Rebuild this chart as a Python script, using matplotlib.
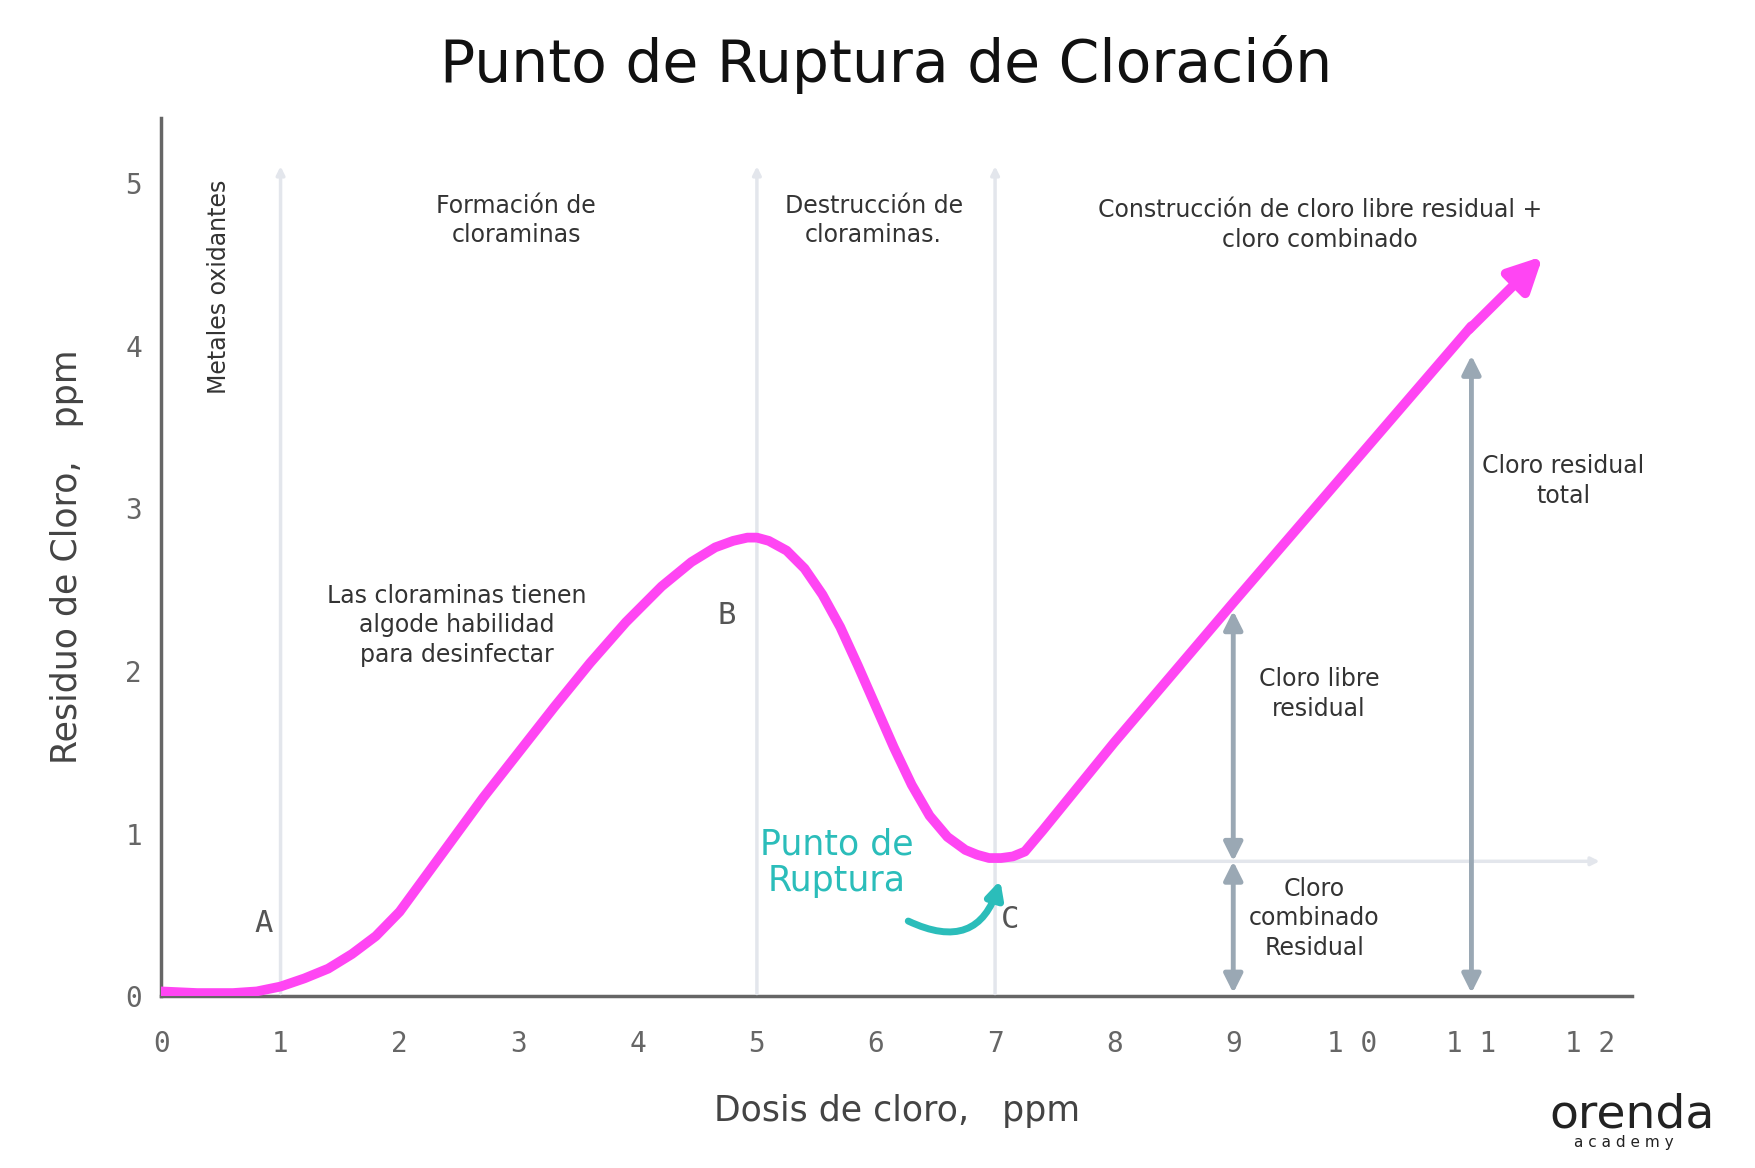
import matplotlib
matplotlib.use("Agg")
import matplotlib.pyplot as plt

curve_x = [0, 0.3, 0.6, 0.8, 1.0, 1.2, 1.4, 1.6, 1.8, 2.0, 2.2, 2.4, 2.7, 3.0, 3.3, 3.6, 3.9, 4.2, 4.45, 4.65, 4.8, 4.92, 5.0, 5.1, 5.25, 5.4, 5.55, 5.7, 5.85, 6.0, 6.15, 6.3, 6.45, 6.6, 6.75, 6.85, 6.95, 7.05, 7.15, 7.25, 7.4, 8.0, 9.0, 10.0, 11.0]
curve_y = [0.03, 0.02, 0.02, 0.03, 0.06, 0.11, 0.17, 0.26, 0.37, 0.52, 0.72, 0.92, 1.22, 1.5, 1.78, 2.05, 2.3, 2.52, 2.67, 2.76, 2.8, 2.82, 2.82, 2.8, 2.74, 2.63, 2.47, 2.27, 2.03, 1.78, 1.53, 1.3, 1.11, 0.98, 0.9, 0.87, 0.85, 0.85, 0.86, 0.89, 1.02, 1.56, 2.42, 3.27, 4.12]
xticks = list(range(13))
yticks = list(range(6))
pink = "#FF45F3"; grey = "#9AA8B4"; light = "#E3E6EC"; teal = "#2BBDBA"

fig = plt.figure(figsize=(17.55, 11.68), dpi=100)
ax = fig.add_axes([0.092, 0.147, 0.8326, 0.752])
ax.set_xlim(0, 12.35); ax.set_ylim(0, 5.4)
ax.set_position([0.092, 0.147, 0.8326 * 12.35 / 12.27, 0.752])
for s in ["top", "right"]:
    ax.spines[s].set_visible(False)
for s in ["left", "bottom"]:
    ax.spines[s].set_color("#666"); ax.spines[s].set_linewidth(2.5)
ax.set_xticks(xticks); ax.set_yticks(yticks)
ax.set_xticklabels([" ".join(str(t)) for t in xticks], family="DejaVu Sans Mono")
ax.set_yticklabels([str(t) for t in yticks], family="DejaVu Sans Mono")
ax.tick_params(length=0, labelsize=20, labelcolor="#666", pad=14)
ax.tick_params(axis="x", pad=24)
ax.set_xlabel("Dosis de cloro,   ppm", fontsize=25, color="#444", labelpad=26)
ax.set_ylabel("Residuo de Cloro,   ppm", fontsize=25, color="#444", labelpad=30)

for xv in [1, 5, 7]:
    ax.annotate("", xy=(xv, 5.12), xytext=(xv, 0), arrowprops=dict(arrowstyle="-|>", color=light, lw=2.5, mutation_scale=12))
ax.annotate("", xy=(12.1, 0.83), xytext=(7, 0.83), arrowprops=dict(arrowstyle="-|>", color=light, lw=2.5, mutation_scale=12))

ax.plot(curve_x, curve_y, color=pink, lw=7, solid_capstyle="round", solid_joinstyle="round", zorder=5)
ax.annotate("", xy=(11.6, 4.55), xytext=(10.98, 4.1), arrowprops=dict(arrowstyle="-|>", color=pink, lw=7, mutation_scale=50, shrinkA=0, shrinkB=0), zorder=6)

ga = dict(arrowstyle="<|-|>", color=grey, lw=3.5, mutation_scale=28, shrinkA=0, shrinkB=0)
ax.annotate("", xy=(9, 0.02), xytext=(9, 0.83), arrowprops=ga)
ax.annotate("", xy=(9, 0.83), xytext=(9, 2.37), arrowprops=ga)
ax.annotate("", xy=(11, 0.02), xytext=(11, 3.94), arrowprops=ga)

ax.annotate("", xy=(7.05, 0.73), xytext=(6.25, 0.47),
            arrowprops=dict(arrowstyle="-|>", color=teal, lw=5, mutation_scale=25, connectionstyle="arc3,rad=0.6"))

t = dict(fontsize=17, color="#333", ha="center", va="center", linespacing=1.3)
ax.text(2.98, 4.77, "Formación de\ncloraminas", **t)
ax.text(5.98, 4.77, "Destrucción de\ncloraminas.", **t)
ax.text(9.73, 4.74, "Construcción de cloro libre residual +\ncloro combinado", **t)
ax.text(2.48, 2.28, "Las cloraminas tienen\nalgode habilidad\npara desinfectar", **t)
ax.text(0.48, 4.36, "Metales oxidantes", rotation=90, **t)
ax.text(9.72, 1.86, "Cloro libre\nresidual", **t)
ax.text(9.68, 0.48, "Cloro\ncombinado\nResidual", **t)
ax.text(11.77, 3.17, "Cloro residual\ntotal", **t)
ax.text(5.67, 0.82, "Punto de\nRuptura", fontsize=25, color=teal, ha="center", va="center", linespacing=1.1)
lt = dict(fontsize=22, color="#555", ha="center", va="center", family="DejaVu Sans Mono")
ax.text(0.86, 0.45, "A", **lt)
ax.text(4.75, 2.34, "B", **lt)
ax.text(7.13, 0.47, "C", **lt)

fig.text(0.505, 0.945, "Punto de Ruptura de Cloración", fontsize=42, ha="center", va="center", color="#111")
fig.text(0.93, 0.045, "orenda", fontsize=34, ha="center", va="center", color="#222")
fig.text(0.925, 0.022, "a c a d e m y", fontsize=11, ha="center", va="center", color="#222")
fig.savefig("out.png", dpi=100)
